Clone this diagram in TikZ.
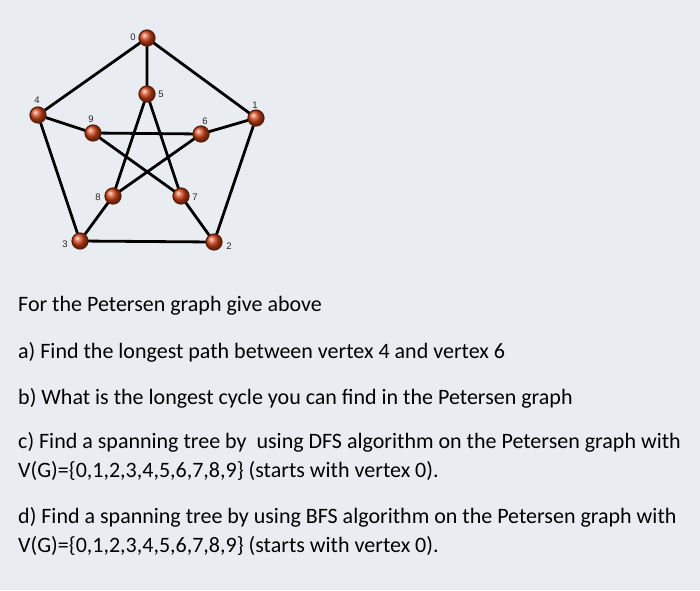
\documentclass[tikz,border=0pt]{standalone}
\usepackage{fontspec}
\setmainfont{Carlito}
\newfontfamily\lblfont{Liberation Sans}
\definecolor{bgc}{RGB}{233,237,241}
\definecolor{vfill}{RGB}{215,70,25}
\definecolor{vdraw}{RGB}{90,30,10}
\begin{document}
\begin{tikzpicture}[x=1pt,y=-1pt,
  vtx/.style={circle,inner sep=0pt,minimum size=16pt,draw=vdraw,line width=1.2pt,shading=ball,ball color=vfill},
  edge/.style={line width=2.8pt,black},
  lbl/.style={font=\lblfont\fontsize{9.5}{10}\selectfont,text=black!85},
  qtext/.style={anchor=base west,inner sep=0pt,font=\fontsize{22}{24}\selectfont}]
\fill[bgc] (0,0) rectangle (700,590);
\useasboundingbox (0,0) rectangle (700,590);
\coordinate (c0) at (147,38);
\coordinate (c5) at (147,94);
\coordinate (c4) at (38,115);
\coordinate (c1) at (256,118);
\coordinate (c9) at (93,133);
\coordinate (c6) at (201,134);
\coordinate (c8) at (113,196);
\coordinate (c7) at (181,196);
\coordinate (c3) at (80,241);
\coordinate (c2) at (214,242);
\draw[edge] (c0)--(c1)--(c2)--(c3)--(c4)--(c0);
\draw[edge] (c0)--(c5) (c1)--(c6) (c2)--(c7) (c3)--(c8) (c4)--(c9);
\draw[edge] (c5)--(c7)--(c9)--(c6)--(c8)--(c5);
\foreach \i in {0,...,9} {\node[vtx] (v\i) at (c\i) {};}
\node[lbl] (l0) at (133,37) {0};
\node[lbl] (l5) at (161,94) {5};
\node[lbl] (l4) at (37,100) {4};
\node[lbl] (l1) at (255,105) {1};
\node[lbl] (l9) at (91,119) {9};
\node[lbl] (l6) at (205,121) {6};
\node[lbl] (l8) at (98,197) {8};
\node[lbl] (l7) at (195,197) {7};
\node[lbl] (l3) at (65,244) {3};
\node[lbl] (l2) at (229,246) {2};
\node[qtext] (t0) at (18,311.5) {For the Petersen graph give above};
\node[qtext] (ta) at (18,358) {a) Find the longest path between vertex 4 and vertex 6};
\node[qtext] (tb) at (18,404) {b) What is the longest cycle you can find in the Petersen graph};
\node[qtext] (tc) at (18,448) {c) Find a spanning tree by \ using DFS algorithm on the Petersen graph with};
\node[qtext] (tc2) at (18,477) {V(G)=\{0,1,2,3,4,5,6,7,8,9\} (starts with vertex 0).};
\node[qtext] (td) at (18,523) {d) Find a spanning tree by using BFS algorithm on the Petersen graph with};
\node[qtext] (td2) at (18,552) {V(G)=\{0,1,2,3,4,5,6,7,8,9\} (starts with vertex 0).};
\end{tikzpicture}
\end{document}
